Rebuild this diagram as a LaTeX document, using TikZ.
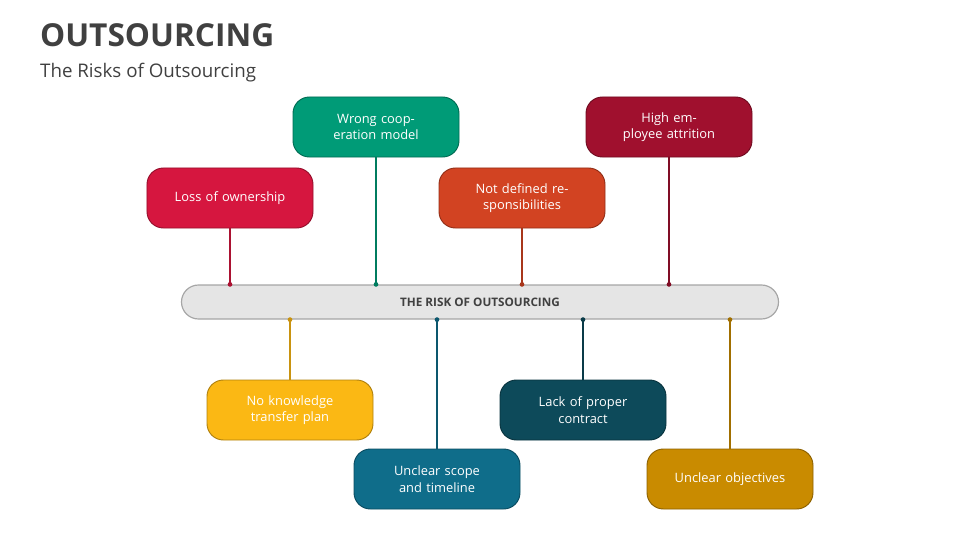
\documentclass[tikz,border=0pt]{standalone}
\usepackage{fontspec}
\setmainfont{Open Sans}
\definecolor{cLoss}{HTML}{D6163F}
\definecolor{cWrong}{HTML}{009B77}
\definecolor{cDef}{HTML}{D24322}
\definecolor{cHigh}{HTML}{A0102E}
\definecolor{cKnow}{HTML}{FBB814}
\definecolor{cScope}{HTML}{0F6D8A}
\definecolor{cLack}{HTML}{0D4A5A}
\definecolor{cObj}{HTML}{C98B00}
\definecolor{ink}{HTML}{404040}
\tikzset{
  risk/.style={rounded corners=14pt, minimum width=166\pxu, minimum height=60\pxu,
    text width=140\pxu, align=center, text=white, font=\fontsize{11}{14}\selectfont, draw=#1!70!black, fill=#1, line width=0.8pt},
  stem/.style={draw=#1!80!black, line width=1pt},
  dot/.style={circle, fill=#1!80!black, inner sep=0pt, minimum size=4pt}
}
\newlength{\pxu}\setlength{\pxu}{0.3mm}
\begin{document}
\begin{tikzpicture}[x=0.03cm, y=-0.03cm]
  \useasboundingbox (0,0) rectangle (960,540);
  \node[anchor=west, text=ink, font=\fontsize{27}{30}\bfseries\selectfont] (title) at (36,35) {OUTSOURCING};
  \node[anchor=west, text=ink, font=\fontsize{16}{20}\selectfont] (sub) at (36,73) {The Risks of Outsourcing};
  \node[rounded corners=17\pxu, minimum width=597\pxu, minimum height=34\pxu, fill=black!10, draw=black!35, line width=1pt,
    text=ink, font=\fontsize{10}{12}\bfseries\selectfont] (bar) at (480,302) {THE RISK OF OUTSOURCING};
  % above
  \node[risk=cLoss] (loss) at (230,198) {Loss of ownership};
  \node[risk=cWrong] (wrong) at (376,127) {Wrong cooperation model};
  \node[risk=cDef] (def) at (522,198) {Not defined responsibilities};
  \node[risk=cHigh] (high) at (669,127) {High employee attrition};
  % below
  \node[risk=cKnow] (know) at (290,410) {No knowledge transfer plan};
  \node[risk=cScope] (scope) at (437,479) {Unclear scope and timeline};
  \node[risk=cLack] (lack) at (583,410) {Lack of proper contract};
  \node[risk=cObj] (obj) at (730,479) {Unclear objectives};
  \foreach \n/\c in {loss/cLoss, wrong/cWrong, def/cDef, high/cHigh}{
    \coordinate (\n-e) at (\n.south |- bar.north);
    \draw[stem=\c] (\n) -- (\n-e);
    \node[dot=\c] at (\n-e) {};
  }
  \foreach \n/\c in {know/cKnow, scope/cScope, lack/cLack, obj/cObj}{
    \coordinate (\n-e) at (\n.north |- bar.south);
    \draw[stem=\c] (\n) -- (\n-e);
    \node[dot=\c] at (\n-e) {};
  }
\end{tikzpicture}
\end{document}
